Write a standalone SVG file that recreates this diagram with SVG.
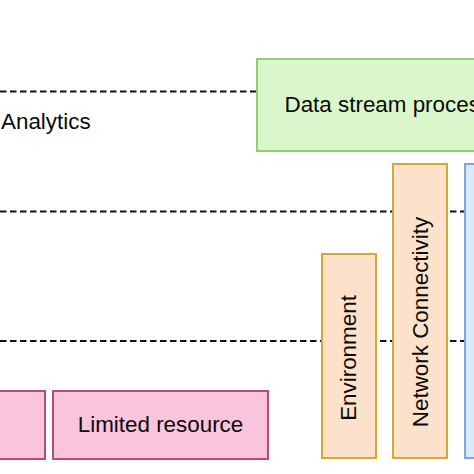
<svg xmlns="http://www.w3.org/2000/svg" width="474" height="474" viewBox="0 0 474 474">
<style>
.t{font-family:"Liberation Sans",Arial,sans-serif;font-size:22.4px;fill:#0a0a0a}
.dash{stroke:#111;stroke-width:2.2;stroke-dasharray:6.5 3.5;fill:none}
.pink{fill:#f9c4dc;stroke:#b3506e;stroke-width:2}
.orange{fill:#fde2cb;stroke:#d6a838;stroke-width:2}
.green{fill:#d9f7cb;stroke:#8fd16a;stroke-width:2}
.blue{fill:#dce9fb;stroke:#7ea6e0;stroke-width:2}
</style>
<rect width="474" height="474" fill="#fff"/>
<g id="connectors">
<line class="dash" x1="0" y1="91.5" x2="474" y2="91.5"/>
<line class="dash" x1="0" y1="211.5" x2="474" y2="211.5"/>
<line class="dash" x1="0" y1="341" x2="474" y2="341"/>
</g>
<g id="analytics">
<text class="t" x="1" y="129">Analytics</text>
</g>
<g id="data-stream">
<rect class="green" x="257" y="59" width="230" height="92"/>
<text class="t" x="284.5" y="112">Data stream processing</text>
</g>
<g id="blue-box">
<rect class="blue" x="465" y="164" width="30" height="294"/>
</g>
<g id="network-connectivity">
<rect class="orange" x="393" y="164" width="54" height="294"/>
<text class="t" transform="translate(428 322) rotate(-90)" text-anchor="middle">Network Connectivity</text>
</g>
<g id="environment">
<rect class="orange" x="322" y="254" width="54" height="204"/>
<text class="t" transform="translate(356 358) rotate(-90)" text-anchor="middle">Environment</text>
</g>
<g id="pink-left">
<rect class="pink" x="-5" y="391" width="50" height="68"/>
</g>
<g id="limited-resource">
<rect class="pink" x="53" y="391" width="215" height="68"/>
<text class="t" x="160.5" y="432" text-anchor="middle">Limited resource</text>
</g>
</svg>
